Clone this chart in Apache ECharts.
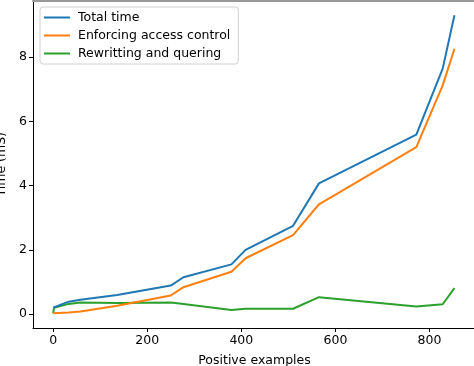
<!DOCTYPE html>
<html>
<head>
<meta charset="utf-8">
<script src="https://cdn.jsdelivr.net/npm/echarts@6/dist/echarts.min.js"></script>
<style>html,body{margin:0;padding:0;background:#fff;}#c{width:474px;height:366px;}</style>
</head>
<body>
<div id="c"></div>
<script>
const xValues = [0, 2, 33, 58, 136, 250, 277, 379, 409, 510, 565, 772, 828, 853];
const totalTime = [0.2, 0.23, 0.39, 0.45, 0.6, 0.89, 1.15, 1.55, 2.0, 2.75, 4.07, 5.59, 7.64, 9.3];
const enforcing = [0.03, 0.03, 0.05, 0.08, 0.26, 0.58, 0.84, 1.32, 1.74, 2.46, 3.42, 5.2, 7.12, 8.26];
const rewriting = [0.03, 0.2, 0.32, 0.36, 0.35, 0.36, 0.32, 0.13, 0.17, 0.17, 0.53, 0.24, 0.31, 0.81];
const seriesNames = ['Total time', 'Enforcing access control', 'Rewritting and quering'];
const xTicks = [0, 200, 400, 600, 800];
const yTicks = [0, 2, 4, 6, 8];
const colors = ['#1f77b4', '#ff7f0e', '#2ca02c'];

const font = 'DejaVu Sans';
const pair = (ys) => xValues.map((x, i) => [x, ys[i]]);
const chart = echarts.init(document.getElementById('c'), null, {renderer: 'canvas'});
const allData = [totalTime, enforcing, rewriting];
chart.setOption({
  animation: false,
  textStyle: {fontFamily: font},
  grid: {left: 33, right: -2, top: 0.5, bottom: 38, containLabel: false, outerBoundsMode: 'none'},
  legend: {
    left: 40, top: 7, orient: 'vertical',
    data: seriesNames.map(n => ({name: n, icon: 'rect'})),
    itemWidth: 26, itemHeight: 2, itemGap: 5,
    padding: [4, 8, 4, 4],
    borderColor: '#d0d0d0', borderWidth: 1, borderRadius: 3,
    backgroundColor: 'rgba(255,255,255,0.8)',
    textStyle: {fontFamily: font, fontSize: 12.5, color: '#000', padding: [0, 0, 0, 3], lineHeight: 13}
  },
  xAxis: [{
    type: 'value', min: -42.8, max: 898.8,
    name: 'Positive examples', nameLocation: 'middle', nameGap: 26,
    nameTextStyle: {fontFamily: font, fontSize: 12.5, color: '#000'},
    splitLine: {show: false},
    axisLine: {show: true, onZero: false, lineStyle: {color: '#000', width: 1}},
    axisTick: {show: true, length: 4, customValues: xTicks, lineStyle: {color: '#000'}},
    axisLabel: {customValues: xTicks, fontFamily: font, fontSize: 12.5, color: '#000', margin: 6}
  }, {
    type: 'value', position: 'top', min: -42.8, max: 898.8,
    axisLine: {show: true, onZero: false, lineStyle: {color: '#999', width: 2}},
    axisTick: {show: false}, axisLabel: {show: false}, splitLine: {show: false}
  }],
  yAxis: {
    type: 'value', min: -0.43, max: 9.76,
    name: 'Time (mS)', nameLocation: 'middle', nameGap: 24,
    nameTextStyle: {fontFamily: font, fontSize: 12.5, color: '#000'},
    splitLine: {show: false},
    axisLine: {show: true, onZero: false, lineStyle: {color: '#000', width: 1}},
    axisTick: {show: true, length: 4, customValues: yTicks, lineStyle: {color: '#000'}},
    axisLabel: {customValues: yTicks, fontFamily: font, fontSize: 12.5, color: '#000', margin: 6}
  },
  series: seriesNames.map((n, i) => ({
    name: n, type: 'line', data: pair(allData[i]),
    showSymbol: false, symbol: 'none',
    lineStyle: {color: colors[i], width: 2},
    itemStyle: {color: colors[i]},
    z: 3 - i
  }))
});
</script>
</body>
</html>
